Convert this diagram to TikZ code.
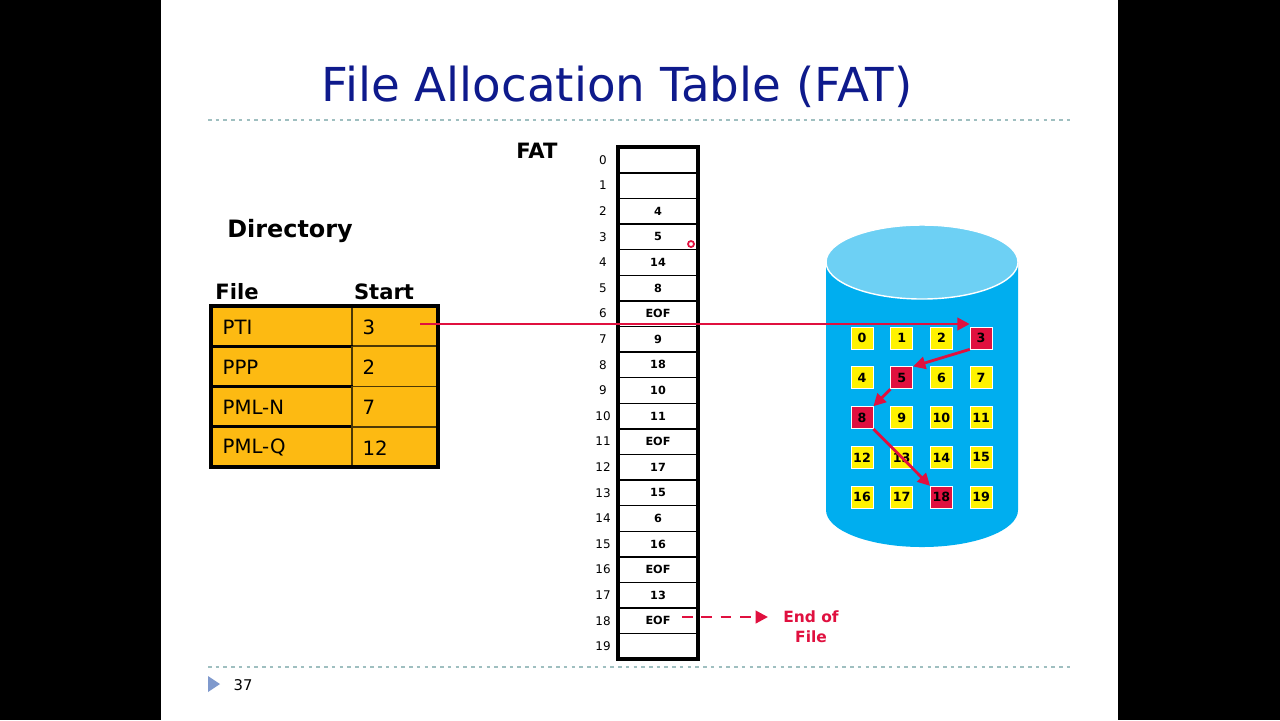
\documentclass[tikz,border=0pt]{standalone}
\usepackage{fontspec}
\setmainfont{DejaVu Sans}
\usetikzlibrary{arrows.meta,shapes.geometric}
\definecolor{ttl}{HTML}{0E1A8C}
\definecolor{crim}{HTML}{E0103F}
\definecolor{org}{HTML}{FDBA12}
\definecolor{cylb}{HTML}{00AEEF}
\definecolor{cylt}{HTML}{6DD0F4}
\definecolor{sep}{HTML}{9FBFC0}
\tikzset{
 fatcell/.style={draw=black,minimum width=80*0.01cm,minimum height=25.6*0.01cm,inner sep=0,font=\fontsize{3.2}{4}\selectfont\bfseries},
 idx/.style={font=\fontsize{3.4}{4}\selectfont,inner sep=0},
 dircell/.style={draw=black,line width=0.8pt,fill=org,minimum height=40*0.01cm,inner sep=0,text depth=0pt},
 dirtxt/.style={font=\fontsize{5.6}{7}\selectfont,anchor=west,inner sep=0},
 blk/.style={draw=white,line width=0.2pt,minimum size=22*0.01cm,inner sep=0,font=\fontsize{3.6}{4}\selectfont\bfseries},
 yb/.style={blk,fill=yellow},
 rb/.style={blk,fill=crim},
 rarr/.style={crim,line width=0.8pt,-{Triangle[length=3.5pt,width=3.5pt]}},
}
\begin{document}
\begin{tikzpicture}[x=0.01cm,y=-0.01cm]
\useasboundingbox (0,0) rectangle (1280,720);
\fill[black] (0,0) rectangle (1280,720);
\fill[white] (161,0) rectangle (1118,720);
\node[text=ttl,font=\fontsize{13.3}{15}\selectfont,inner sep=0] (title) at (617,87) {File Allocation Table (FAT)};
\draw[sep,dash pattern=on 1pt off 1.2pt,line width=0.4pt] (208,120) -- (1072,120);
\draw[sep,dash pattern=on 1pt off 1.2pt,line width=0.4pt] (208,667) -- (1072,667);
\fill[sep!80!blue] (208,676) -- (220,684) -- (208,692) -- cycle;
\node[font=\fontsize{4.2}{5}\selectfont,inner sep=0] (pg) at (243,685) {37};
% FAT
\node[font=\fontsize{6}{7}\selectfont\bfseries,inner sep=0] (fatl) at (537,151) {FAT};
\foreach \i/\v in {0/,1/,2/4,3/5,4/14,5/8,6/EOF,7/9,8/18,9/10,10/11,11/EOF,12/17,13/15,14/6,15/16,16/EOF,17/13,18/EOF,19/}{
 \node[fatcell] (f\i) at (658,{160+25.6*\i}) {\v};
 \node[idx] (n\i) at (603,{160+25.6*\i}) {\i};
}
\draw[line width=1.4pt] (618,147) rectangle (698,659);
\draw[crim,line width=0.5pt] (691,244) circle (3);
% directory
\node[font=\fontsize{6.8}{8}\selectfont\bfseries,inner sep=0] (dirl) at (290,231) {Directory};
\node[font=\fontsize{6}{7}\selectfont\bfseries,inner sep=0] (filel) at (237,292) {File};
\node[font=\fontsize{6}{7}\selectfont\bfseries,inner sep=0] (startl) at (384,292) {Start};
\foreach \r/\f/\s in {0/PTI/3,1/PPP/2,2/PML-N/7,3/PML-Q/12}{
 \node[dircell,minimum width=141*0.01cm] (df\r) at (281.5,{326+40.3*\r}) {};
 \node[dircell,minimum width=86*0.01cm,draw=black!70!org,line width=0.4pt] (ds\r) at (395,{326+40.3*\r}) {};
 \node[dirtxt] at (222,{327+40.3*\r}) {\f};
 \node[dirtxt] at (362,{327+40.3*\r}) {\s};
}
\draw[line width=1.1pt] (211,306) rectangle (438,467);
% cylinder
\fill[cylb] (826,262) -- (826,510) arc[start angle=180,end angle=0,x radius=96,y radius=37] -- (1018,262) -- cycle;
\fill[cylt,draw=white,line width=0.4pt] (922,262) ellipse[x radius=96,y radius=37];
\foreach \n in {0,...,19}{
 \pgfmathtruncatemacro{\c}{mod(\n,4)}
 \pgfmathtruncatemacro{\r}{div(\n,4)}
 \pgfmathsetmacro{\xx}{862+39.7*\c}
 \pgfmathsetmacro{\yy}{338+39.8*\r}
 \ifnum\n=3 \node[rb] (b\n) at (\xx,\yy) {\n};
 \else\ifnum\n=5 \node[rb] (b\n) at (\xx,\yy) {\n};
 \else\ifnum\n=8 \node[rb] (b\n) at (\xx,\yy) {\n};
 \else\ifnum\n=18 \node[rb] (b\n) at (\xx,\yy) {\n};
 \else \node[yb] (b\n) at (\xx,\yy) {\n};
 \fi\fi\fi\fi
}
\coordinate (s0) at (420,324);
\draw[rarr] (s0) -- (b3.west |- s0);
\draw[rarr] (b3.south west) -- (b5.north east);
\draw[rarr] (b5.south west) -- (b8.north east);
\draw[rarr] (b8.south east) -- (b18.north west);
% end of file
\coordinate (e0) at (682,617);
\coordinate (e1) at (768,617);
\draw[crim,line width=0.8pt,dash pattern=on 3pt off 2.5pt,-{Triangle[length=3.5pt,width=3.5pt]}] (e0) -- (e1);
\node[text=crim,font=\fontsize{4.4}{5.6}\selectfont\bfseries,align=center,inner sep=0] (eof) at (811,627) {End of\\File};
\end{tikzpicture}
\end{document}
